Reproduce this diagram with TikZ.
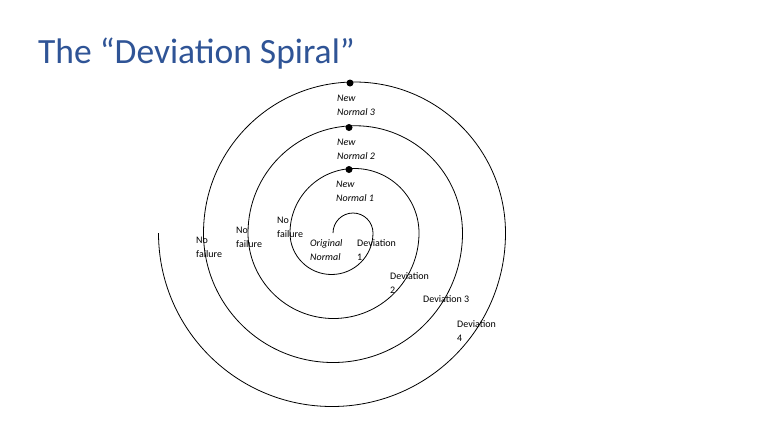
\documentclass[tikz,border=0pt]{standalone}
\usepackage{fontspec}
\setmainfont{Carlito}
\begin{document}
\begin{tikzpicture}[x=1pt,y=-1pt,
  lbl/.style={anchor=west,align=left,inner sep=0pt,font=\fontsize{10}{14}\selectfont},
  ilbl/.style={lbl,font=\fontsize{10}{14}\selectfont\itshape},
  dot/.style={circle,fill=black,inner sep=0pt,minimum size=7pt}]
\useasboundingbox (0,0) rectangle (768,432);
\fill[white] (0,0) rectangle (768,432);
\node[anchor=base west,inner sep=0pt,text={rgb,255:red,47;green,84;blue,150},font=\fontsize{35.5}{36}\selectfont] (title) at (38,63) {The “Deviation Spiral”};
\draw[line width=0.8pt] (333,233) arc[start angle=180,end angle=360,radius=20]
  arc[start angle=0,end angle=180,radius=41.5]
  arc[start angle=180,end angle=360,radius=64.5]
  arc[start angle=0,end angle=180,radius=85.5]
  arc[start angle=180,end angle=360,radius=107.25]
  arc[start angle=0,end angle=180,radius=129.5]
  arc[start angle=180,end angle=360,radius=151]
  arc[start angle=0,end angle=180,radius=173.5];
\node[dot] (d1) at (349,169.5) {};
\node[dot] (d2) at (349,127.5) {};
\node[dot] (d3) at (350,83) {};
\node[ilbl] (n3) at (337,105) {New\\Normal 3};
\node[ilbl] (n2) at (337,149) {New\\Normal 2};
\node[ilbl] (n1) at (336,191) {New\\Normal 1};
\node[lbl] (f1) at (277,227) {No\\failure};
\node[lbl] (f2) at (236,237) {No\\failure};
\node[lbl] (f3) at (196,247) {No\\failure};
\node[ilbl] (on) at (310,250) {Original\\Normal};
\node[lbl] (v1) at (357,250) {Deviation\\1};
\node[lbl] (v2) at (390,283) {Deviation\\2};
\node[lbl] (v3) at (423,299) {Deviation 3};
\node[lbl] (v4) at (457,331) {Deviation\\4};
\end{tikzpicture}
\end{document}
